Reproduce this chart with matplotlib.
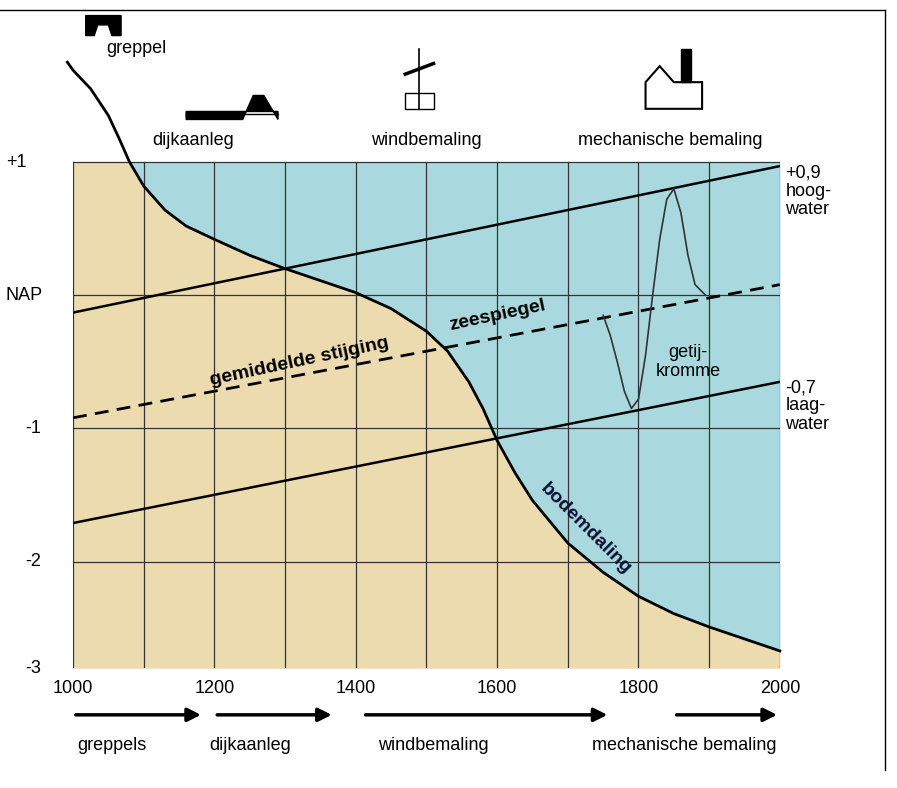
import numpy as np
import matplotlib.pyplot as plt
from matplotlib.lines import Line2D

plt.rcParams['font.family'] = ['Liberation Sans', 'DejaVu Sans']

# bodemhoogte (m t.o.v. NAP)
jaar_bodem = [992, 1000, 1025, 1050, 1065, 1080, 1100, 1130, 1160, 1200, 1250, 1300, 1350,
              1400, 1450, 1500, 1530, 1560, 1580, 1600, 1625, 1650, 1700, 1750, 1800,
              1850, 1900, 1950, 2000]
bodem = [1.75, 1.69, 1.55, 1.35, 1.18, 1.0, 0.82, 0.64, 0.52, 0.42, 0.30, 0.2, 0.11,
         0.02, -0.1, -0.27, -0.42, -0.65, -0.85, -1.09, -1.33, -1.54, -1.86, -2.08, -2.26,
         -2.39, -2.49, -2.58, -2.67]

jaren = [1000, 2000]
hoogwater = [-0.13, 0.97]
zeespiegel = [-0.92, 0.08]
laagwater = [-1.71, -0.65]

# getijkromme
jaar_getij = [1750, 1760, 1770, 1780, 1790, 1800, 1810, 1820, 1830, 1840, 1850, 1860, 1870, 1880, 1895]
getij = [-0.15, -0.3, -0.5, -0.72, -0.85, -0.78, -0.45, 0.0, 0.42, 0.72, 0.8, 0.62, 0.3, 0.08, 0.0]

fig = plt.figure(figsize=(8.97, 7.88), dpi=100)
ax = fig.add_axes([0.0814, 0.152, 0.788, 0.835])
ax.set_xlim(1000, 2000)
ax.set_ylim(-2.8, 2.14)
ax.axis('off')

xb = np.array(jaar_bodem)
yb = np.minimum(np.array(bodem), 1)
ax.fill_between(xb, -2.8, yb, color='#eddbb0', lw=0)
ax.fill_between(xb, yb, 1, color='#a9d9de', lw=0)

for x in range(1000, 2001, 100):
    ax.plot([x, x], [-2.8, 1], color='#333333', lw=0.9)
for y in [1, 0, -1, -2]:
    ax.plot([1000, 2000], [y, y], color='#333333', lw=0.9)

ax.plot(jaar_bodem, bodem, color='black', lw=2, clip_on=False)
ax.plot(jaren, hoogwater, color='black', lw=1.8)
ax.plot(jaren, zeespiegel, color='black', lw=2, ls=(0, (5, 3)))
ax.plot(jaren, laagwater, color='black', lw=1.8)
ax.plot(jaar_getij, getij, color='#333333', lw=1.2)

kw = dict(fontsize=13, clip_on=False)
ax.text(-0.095, 1, '+1', transform=ax.get_yaxis_transform(), va='center', **kw)
ax.text(-0.095, 0, 'NAP', transform=ax.get_yaxis_transform(), va='center', ha='left', **kw)
for y in [-1, -2, -3]:
    yy = -2.8 if y == -3 else y
    ax.text(-0.045, yy, str(y), transform=ax.get_yaxis_transform(), va='center', ha='right', **kw)

ax.text(2008, 0.78, '+0,9\nhoog-\nwater', va='center', ha='left', linespacing=1.1, **kw)
ax.text(2008, -0.83, '-0,7\nlaag-\nwater', va='center', ha='left', linespacing=1.1, **kw)
ax.text(1870, -0.5, 'getij-\nkromme', va='center', ha='center', linespacing=1.1, **kw)
ax.text(1320, -0.5, 'gemiddelde stijging', rotation=12, ha='center', va='center',
        fontsize=14, fontweight='bold')
ax.text(1600, -0.15, 'zeespiegel', rotation=12, ha='center', va='center',
        fontsize=14, fontweight='bold')
ax.text(1725, -1.75, 'bodemdaling', rotation=-45, ha='center', va='center',
        fontsize=14, fontweight='bold', color='#0b1030')

# bovenschriften en pictogrammen
ax.text(1090, 1.82, 'greppel', ha='center', **kw)
ax.text(1170, 1.13, 'dijkaanleg', ha='center', **kw)
ax.text(1500, 1.13, 'windbemaling', ha='center', **kw)
ax.text(1845, 1.13, 'mechanische bemaling', ha='center', **kw)
ax.fill([1018, 1018, 1030, 1035, 1050, 1055, 1068, 1068],
        [2.1, 1.95, 1.95, 2.03, 2.03, 1.95, 1.95, 2.1], color='black', clip_on=False)
ax.fill([1160, 1160, 1240, 1255, 1270, 1290, 1290], [1.38, 1.32, 1.32, 1.5, 1.5, 1.32, 1.38],
        color='black', clip_on=False)
ax.plot([1160, 1290], [1.36, 1.36], color='black', lw=1, clip_on=False)
ax.plot([1490, 1490], [1.4, 1.85], color='black', lw=1.2, clip_on=False)
ax.fill([1470, 1470, 1510, 1510], [1.4, 1.52, 1.52, 1.4], color='none', ec='black', clip_on=False)
ax.plot([1470, 1510], [1.66, 1.74], color='black', lw=2.5, clip_on=False)
ax.fill([1810, 1810, 1830, 1850, 1890, 1890], [1.4, 1.6, 1.72, 1.6, 1.6, 1.4],
        color='none', ec='black', lw=1.5, clip_on=False)
ax.fill([1860, 1860, 1875, 1875], [1.6, 1.85, 1.85, 1.6], color='black', clip_on=False)

# jaartallen en pijlen onder
for x in range(1000, 2001, 200):
    ax.text(x, -2.95, str(x), ha='center', va='center', **kw)
for x0, x1 in [(1000, 1185), (1200, 1370), (1410, 1760), (1850, 2000)]:
    ax.annotate('', xy=(x1, -3.15), xytext=(x0, -3.15), annotation_clip=False,
                arrowprops=dict(arrowstyle='-|>', color='black', lw=2.5, mutation_scale=20))
for x, s in [(1055, 'greppels'), (1250, 'dijkaanleg'), (1510, 'windbemaling'), (1865, 'mechanische bemaling')]:
    ax.text(x, -3.38, s, ha='center', va='center', **kw)

fig.add_artist(Line2D([0, 885 / 897], [1 - 10 / 788] * 2, color='black', lw=1))
fig.add_artist(Line2D([885 / 897] * 2, [1 - 10 / 788, 1 - 770 / 788], color='black', lw=1))

fig.savefig('out.png', dpi=100)
